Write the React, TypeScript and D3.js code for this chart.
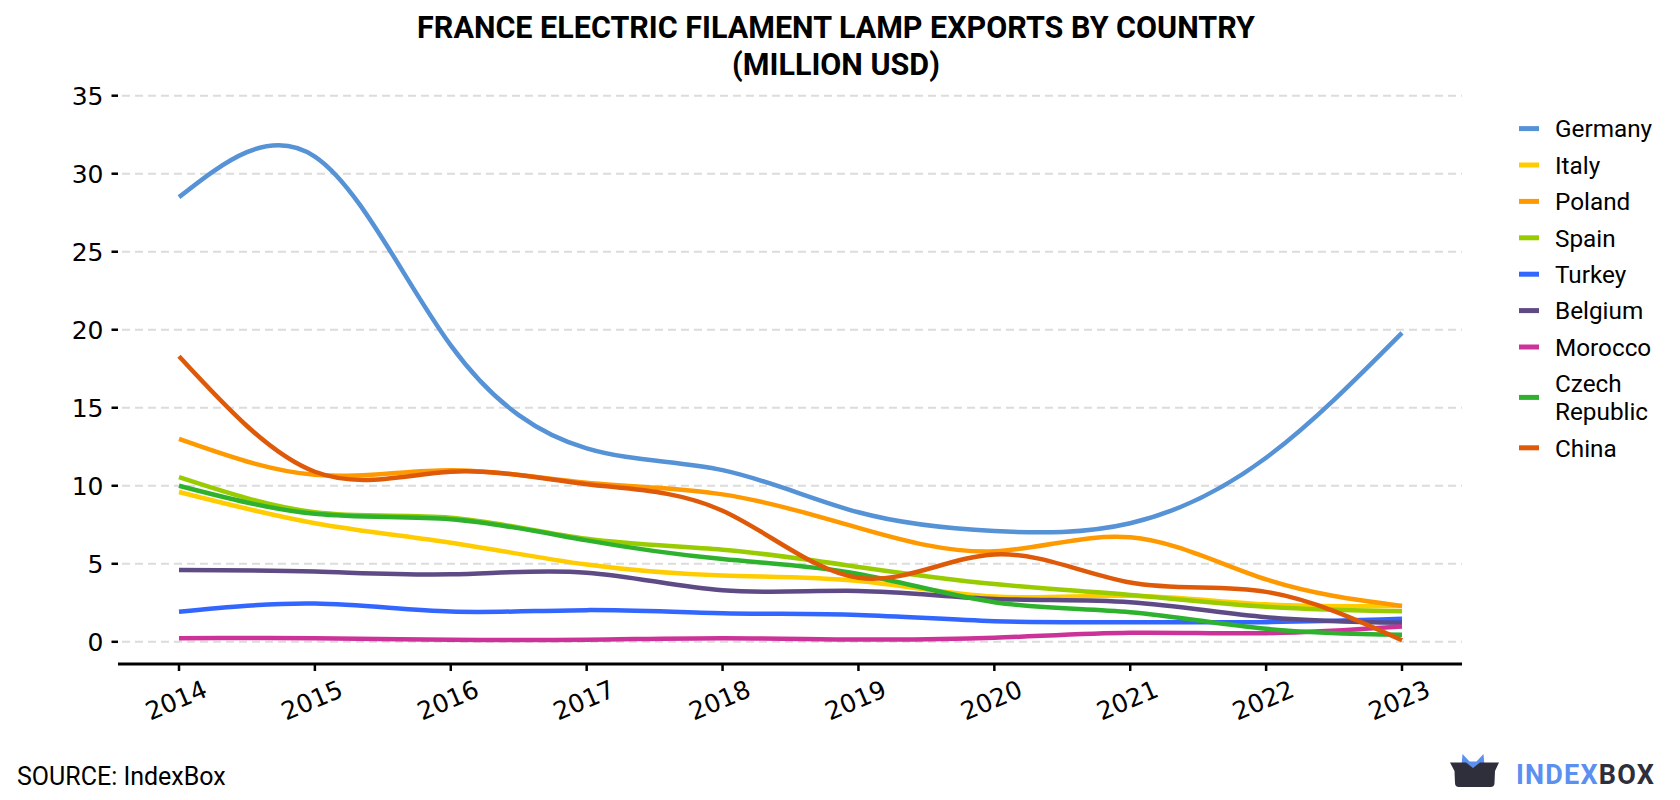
import React from "react";
import * as d3 from "d3";

const years = [2014, 2015, 2016, 2017, 2018, 2019, 2020, 2021, 2022, 2023];
const yTicks = [0, 5, 10, 15, 20, 25, 30, 35];

const germany = [28.5, 31.1, 19.0, 12.4, 11.0, 8.3, 7.1, 7.6, 11.8, 19.8];
const italy = [9.6, 7.6, 6.35, 4.95, 4.25, 3.9, 2.9, 2.95, 2.4, 2.3];
const poland = [13.0, 10.7, 11.0, 10.2, 9.45, 7.3, 5.8, 6.7, 4.0, 2.3];
const spain = [10.55, 8.3, 7.95, 6.6, 5.9, 4.8, 3.7, 3.0, 2.25, 1.95];
const turkey = [1.92, 2.45, 1.94, 2.03, 1.83, 1.72, 1.32, 1.26, 1.26, 1.47];
const belgium = [4.6, 4.5, 4.33, 4.43, 3.3, 3.26, 2.75, 2.54, 1.58, 1.22];
const morocco = [0.23, 0.23, 0.13, 0.13, 0.23, 0.15, 0.26, 0.58, 0.55, 0.98];
const czech = [10.0, 8.2, 7.85, 6.5, 5.3, 4.35, 2.54, 1.9, 0.83, 0.45];
const china = [18.3, 10.9, 10.9, 10.1, 8.4, 4.1, 5.6, 3.8, 3.2, 0.1];

const seriesNames = ["Germany", "Italy", "Poland", "Spain", "Turkey", "Belgium", "Morocco", "Czech Republic", "China"];
const seriesValues = [germany, italy, poland, spain, turkey, belgium, morocco, czech, china];
const seriesColors = ["#5592d6", "#ffcc00", "#ff9900", "#99cc00", "#3366ff", "#5e4b85", "#cc3399", "#2eb22e", "#de5a08"];
const legendLines = [["Germany"], ["Italy"], ["Poland"], ["Spain"], ["Turkey"], ["Belgium"], ["Morocco"], ["Czech", "Republic"], ["China"]];

export default function App() {
  const W = 1680, H = 800;
  const x = d3.scaleLinear().domain([2014, 2023]).range([179, 1402]);
  const y = d3.scaleLinear().domain([0, 35]).range([641.8, 95.7]);
  const line = d3
    .line<number>()
    .x((_, i) => x(years[i]))
    .y((d) => y(d))
    .curve(d3.curveNatural);

  const axisY = 664;
  const tickFont = "DejaVu Sans";

  const legendItems: { name: string; lines: string[]; color: string; cy: number }[] = [];
  let cursor = 128.6;
  const step = 36.4;
  const lh = 28;
  legendLines.forEach((ls, i) => {
    const extra = (ls.length - 1) * lh;
    const cy = cursor + extra / 2;
    legendItems.push({ name: seriesNames[i], lines: ls, color: seriesColors[i], cy });
    cursor += step + extra;
  });

  return (
    <svg
      width={W}
      height={H}
      viewBox={`0 0 ${W} ${H}`}
      style={{ position: "absolute", left: 0, top: 0, background: "#fff" }}
    >
      <rect x={0} y={0} width={W} height={H} fill="#fff" />
      <text x={836} y={38} textAnchor="middle" fontFamily="Roboto" fontWeight={700} fontSize={30.5} fill="#000">
        FRANCE ELECTRIC FILAMENT LAMP EXPORTS BY COUNTRY
      </text>
      <text x={836} y={75} textAnchor="middle" fontFamily="Roboto" fontWeight={700} fontSize={30.5} fill="#000">
        (MILLION USD)
      </text>

      {yTicks.map((t) => (
        <g key={t}>
          <line x1={122} x2={1462} y1={y(t)} y2={y(t)} stroke="#dcdcdc" strokeWidth={2} strokeDasharray="8,5" />
          <line x1={111.5} x2={118} y1={y(t)} y2={y(t)} stroke="#000" strokeWidth={2.5} />
          <text x={103.5} y={y(t)} dy="0.36em" textAnchor="end" fontFamily={tickFont} fontSize={25} fill="#000">
            {String(t)}
          </text>
        </g>
      ))}

      <line x1={118} x2={1462} y1={axisY} y2={axisY} stroke="#000" strokeWidth={3} />
      {years.map((yr) => (
        <g key={yr}>
          <line x1={x(yr)} x2={x(yr)} y1={axisY} y2={axisY + 7} stroke="#000" strokeWidth={2.5} />
          <text
            transform={`translate(${x(yr) - 3},${700}) rotate(-23)`}
            textAnchor="middle"
            dy="0.36em"
            fontFamily={tickFont}
            fontSize={25}
            fill="#000"
          >
            {String(yr)}
          </text>
        </g>
      ))}

      {seriesValues.map((vals, i) => (
        <path key={seriesNames[i]} d={line(vals) || ""} fill="none" stroke={seriesColors[i]} strokeWidth={4.5} strokeLinecap="butt" strokeLinejoin="round" />
      ))}

      {legendItems.map((it) => (
        <g key={it.name}>
          <line x1={1519} x2={1539} y1={it.cy} y2={it.cy} stroke={it.color} strokeWidth={5} />
          {it.lines.map((l, j) => (
            <text
              key={l}
              x={1555}
              y={it.cy - ((it.lines.length - 1) * lh) / 2 + j * lh}
              dy="0.36em"
              fontFamily="Roboto"
              fontSize={24.3}
              fill="#000"
            >
              {l}
            </text>
          ))}
        </g>
      ))}

      <text x={17} y={784.5} fontFamily="Roboto" fontSize={25} fill="#000">
        SOURCE: IndexBox
      </text>

      <g>
        <path d="M1461,772 L1462.5,754 L1469.5,761.5 L1476.5,761.5 L1483.5,754 L1485,772 Z" fill="#5b8ff0" />
        <path
          d="M1450,762.5 L1466,762.5 L1473,768 L1480,762.5 L1499,762.5 L1495,771 L1494.5,783 Q1494.5,787 1490.5,787 L1459,787 Q1455,787 1455,783 L1454.5,771 Z"
          fill="#2e2f3b"
        />
        <text x={1516} y={784} fontFamily="Roboto" fontWeight={700} fontSize={27} letterSpacing={1.2} fill="#5b8ff0">
          INDEX
          <tspan fill="#2e2f3b">BOX</tspan>
        </text>
      </g>
    </svg>
  );
}
